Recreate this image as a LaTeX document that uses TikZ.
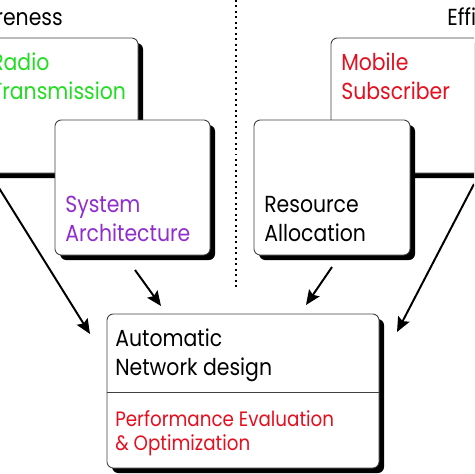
\documentclass[tikz,border=0pt]{standalone}
\usepackage{fontspec}
\setmainfont{Poppins}[FakeStretch = 0.88]
\usepackage{xcolor}
\usepackage{tikz}
\usetikzlibrary{arrows.meta, shadows}

\definecolor{radiogreen}{RGB}{34,221,34}
\definecolor{archpurple}{RGB}{145,45,205}
\definecolor{evalred}{RGB}{228,16,32}

\tikzset{
	panel/.style = {draw = black!75, fill = white, line width = 0.6pt, rounded corners = 4.5pt,
		drop shadow = {shadow xshift = 3.6pt, shadow yshift = -3.6pt, fill = black, opacity = 1}},
	boxtext/.style = {anchor = base west, inner sep = 0pt, align = left, font = \fontsize{16.5}{20.6}\selectfont},
	smalltext/.style = {boxtext, font = \fontsize{14.8}{16.4}\selectfont},
	flow/.style = {line width = 1.4pt, -{Stealth[length = 10.5pt, width = 9pt, inset = 1.8pt]}},
	divider/.style = {line width = 1.5pt, dash pattern = on 1.4pt off 2.5pt},
}

\begin{document}
\begin{tikzpicture}[x = 0.25mm, y = -0.25mm]
		\useasboundingbox (0,0) rectangle (474,474);
		\clip (0,0) rectangle (474,474);
		
		\def\radiobox{(-20,38) rectangle (138,173)};
		\def\archbox{(55,120) rectangle (210,255)};
		\def\mobilebox{(331,38) rectangle (494,173)};
		\def\resourcebox{(254,120) rectangle (410,255)};
		\def\designbox{(107,314) rectangle (379,468)};
		
		\begin{scope}
			\node [boxtext, anchor = base east] (aware) at (63,25) {Awareness};
			\node [boxtext] (effi) at (447,25) {Efficiency};
			\draw [divider] (236,0) -- (236,290);
		\end{scope}
		
		\begin{scope}
			\draw [panel] \radiobox;
			\draw [panel] \mobilebox;
			\draw [panel] \archbox;
			\draw [panel] \resourcebox;
			\draw [panel] \designbox;
			\draw [draw = black!75, line width = 0.6pt] (107,392) -- (379,392);
		\end{scope}
		
		\begin{scope}
			\node [boxtext, text = radiogreen] (radio) at (-9,99) {Radio\\Transmission};
			\node [boxtext, text = archpurple] (arch) at (65,241) {System\\Architecture};
			\node [boxtext, text = evalred] (mobile) at (341,99) {Mobile\\Subscriber};
			\node [boxtext] (resource) at (264,241) {Resource\\Allocation};
			\node [boxtext] (design) at (115,375) {Automatic\\Network design};
			\node [smalltext, text = evalred] (eval) at (115,450) {Performance Evaluation\\\& Optimization};
		\end{scope}
		
		\begin{scope}
			\coordinate (leftfrom) at (-6,180);
			\coordinate (leftto) at (90,334);
			\coordinate (archfrom) at (135,270);
			\coordinate (archto) at (161,306);
			\coordinate (resfrom) at (332,267);
			\coordinate (resto) at (306,305);
			\coordinate (rightfrom) at (474,184);
			\coordinate (rightto) at (397,332);
			\draw [flow] (leftfrom) -- (leftto);
			\draw [flow] (archfrom) -- (archto);
			\draw [flow] (resfrom) -- (resto);
			\draw [flow] (rightfrom) -- (rightto);
		\end{scope}
	\end{tikzpicture}
\end{document}
